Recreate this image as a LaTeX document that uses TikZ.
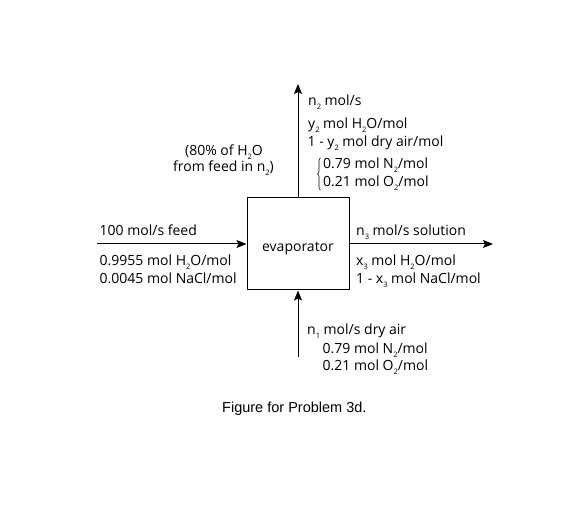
\documentclass[tikz,border=0pt]{standalone}
\usepackage{fontspec}
\setmainfont{Open Sans}
\newfontfamily\capfont{Liberation Sans}
\usetikzlibrary{arrows.meta,decorations.pathreplacing}
\newcommand{\sbs}[1]{\raisebox{-0.5ex}{\fontsize{7.5}{8}\selectfont #1}}
\begin{document}
\begin{tikzpicture}[x=1pt,y=1pt,
  lbl/.style={anchor=base west,inner sep=0pt,font=\fontsize{14}{15}\selectfont},
  flow/.style={line width=1pt,-{Stealth[length=10pt,width=8pt,inset=2pt]}},
  unit/.style={draw,line width=1pt,minimum width=102pt,minimum height=92pt,inner sep=0pt}]
\useasboundingbox (0,0) rectangle (575,505);
\node[unit] (evap) at (298,261) {};
\node[lbl,anchor=base] (evlbl) at (298,253) {evaporator};
\coordinate (top) at (298,421);
\coordinate (left) at (97,261);
\coordinate (right) at (493,261);
\coordinate (bot) at (298,148);
\draw[flow] (evap.north) -- (top);
\draw[flow] (left) -- (evap.west |- left);
\draw[flow] (evap.east |- right) -- (right);
\draw[flow] (bot) -- (evap.south);
% top stream
\node[lbl] (t1) at (308,399) {n\sbs{2} mol/s};
\node[lbl] (t2) at (308,376) {y\sbs{2} mol H\sbs{2}O/mol};
\node[lbl] (t3) at (307.5,358.5) {1 - y\sbs{2} mol dry air/mol};
\node[lbl] (t4) at (323,336.5) {0.79 mol N\sbs{2}/mol};
\node[lbl] (t5) at (323,318) {0.21 mol O\sbs{2}/mol};
\draw[decorate,decoration={brace,amplitude=3pt,mirror},line width=0.6pt] (320.5,347) -- (320.5,315);
\node[lbl,anchor=base] (note1) at (224,349.5) {(80\% of H\sbs{2}O};
\node[lbl,anchor=base] (note2) at (223.5,333.5) {from feed in n\sbs{2})};
% left stream
\node[lbl] (f1) at (99.5,269.3) {100 mol/s feed};
\node[lbl] (f2) at (99.5,239) {0.9955 mol H\sbs{2}O/mol};
\node[lbl] (f3) at (99.5,221.7) {0.0045 mol NaCl/mol};
% right stream
\node[lbl] (s1) at (356,269.3) {n\sbs{3} mol/s solution};
\node[lbl] (s2) at (356,239) {x\sbs{3} mol H\sbs{2}O/mol};
\node[lbl] (s3) at (356,221.7) {1 - x\sbs{3} mol NaCl/mol};
% bottom stream
\node[lbl] (b1) at (307,170) {n\sbs{1} mol/s dry air};
\node[lbl] (b2) at (322.5,151.7) {0.79 mol N\sbs{2}/mol};
\node[lbl] (b3) at (322.5,134) {0.21 mol O\sbs{2}/mol};
\node[anchor=base west,inner sep=0pt,font=\capfont\fontsize{14.5}{16}\selectfont] (cap) at (222,92) {Figure for Problem 3d.};
\end{tikzpicture}
\end{document}
